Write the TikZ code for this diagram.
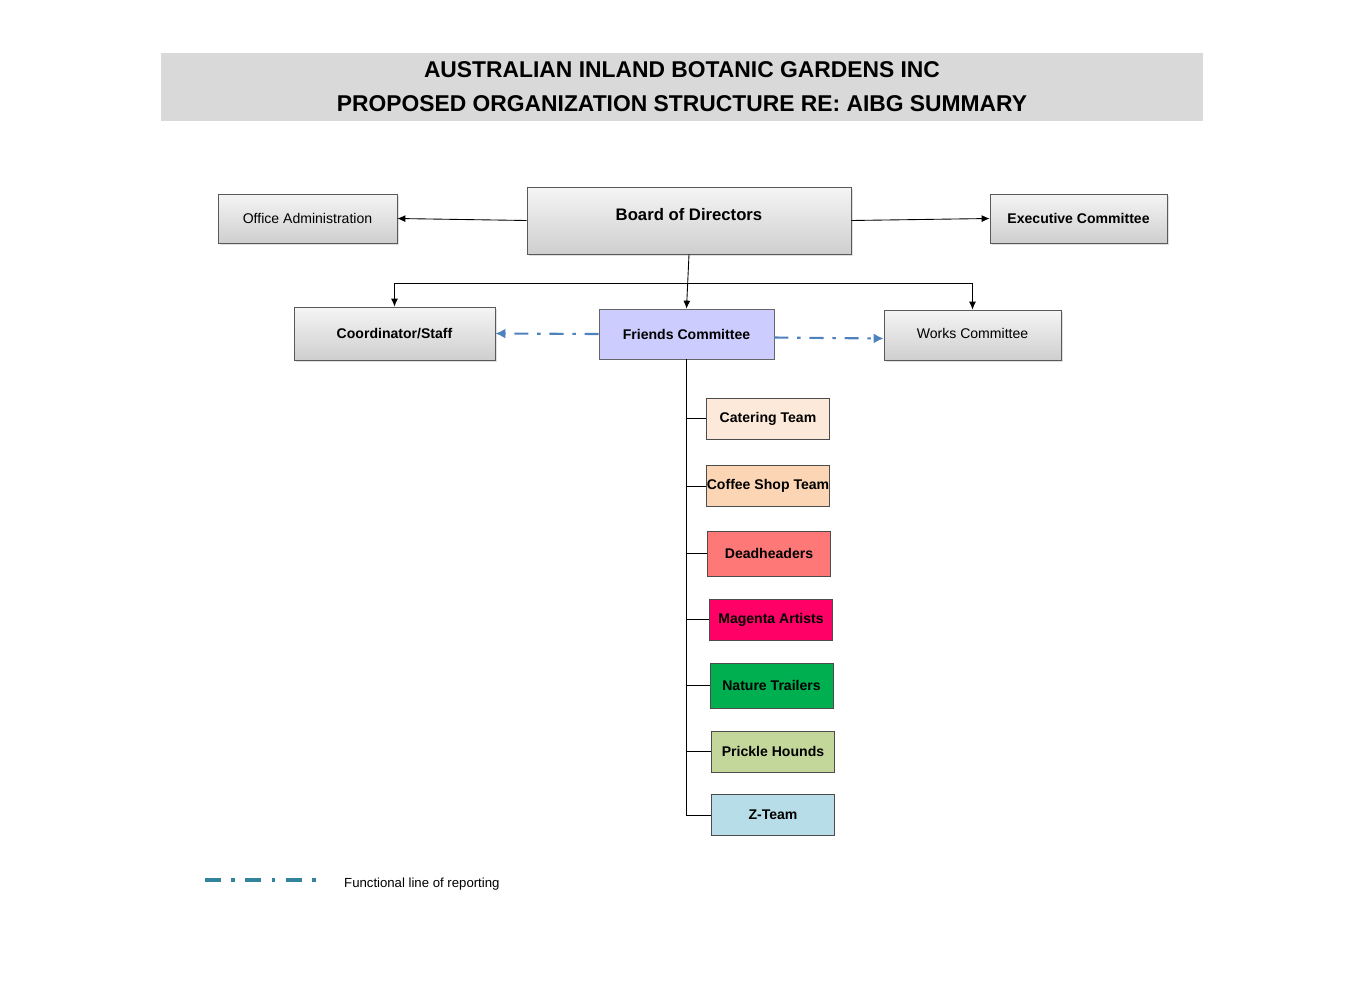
\documentclass[tikz,border=0pt]{standalone}
\usepackage{fontspec}
\setmainfont{Liberation Sans}
\usetikzlibrary{arrows.meta,positioning,shadows}
\definecolor{lineblue}{RGB}{79,129,189}
\definecolor{legteal}{RGB}{49,132,155}
\tikzset{
  grey box/.style={draw=gray!70!black, top color=gray!8, bottom color=gray!38, drop shadow={opacity=0.25,shadow xshift=0.4mm,shadow yshift=-0.4mm}, font=\fontsize{8}{9}\selectfont, inner sep=0pt},
  team/.style={draw=black!70, minimum width=2.46cm, minimum height=0.82cm, inner sep=0pt, font=\fontsize{8}{9}\selectfont\bfseries},
  link/.style={-{Latex[length=1.6mm,width=1.4mm]}, line width=0.5pt},
  functional/.style={-{Latex[length=2mm,width=2mm]}, draw=lineblue, line width=1.2pt, dash pattern=on 8pt off 5pt on 2pt off 5pt}
}
\begin{document}
\begin{tikzpicture}[x=0.02cm,y=-0.02cm]
		\useasboundingbox (0,0) rectangle (1358,980);
		\fill [gray!30] (161,53) rectangle (1203,121);
		\node [font=\fontsize{13}{15}\selectfont\bfseries](title1) at (682,70) {AUSTRALIAN INLAND BOTANIC GARDENS INC};
		\node [font=\fontsize{13}{15}\selectfont\bfseries](title2) at (682,104) {PROPOSED ORGANIZATION STRUCTURE RE: AIBG SUMMARY};
		% top row
		\node [grey box, minimum width=6.48cm, minimum height=1.34cm, font=\fontsize{9.5}{11}\selectfont\bfseries](board) at (689,220.5) {\raisebox{0.25cm}{Board of Directors}};
		\node [grey box, minimum width=3.58cm, minimum height=0.98cm](office) at (307.5,218.5) {Office Administration};
		\node [grey box, minimum width=3.54cm, minimum height=0.98cm, font=\fontsize{8}{9}\selectfont\bfseries](exec) at (1078.5,218.5) {Executive Committee};
		% second row
		\node [grey box, minimum width=4.02cm, minimum height=1.06cm, font=\fontsize{8}{9}\selectfont\bfseries](coord) at (394.5,333.5) {Coordinator/Staff};
		\node [draw=black!60, fill={rgb,255:red,204;green,204;blue,255}, minimum width=3.5cm, minimum height=1.0cm, inner sep=0pt, font=\fontsize{8}{9}\selectfont\bfseries](friends) at (686.5,334) {Friends Committee};
		\node [grey box, minimum width=3.54cm, minimum height=1.0cm](works) at (972.5,335) {\raisebox{0.07cm}{Works Committee}};
		% teams
		\node [team, fill={rgb,255:red,253;green,233;blue,217}](catering) at (768,418.5) {Catering Team};
		\node [team, fill={rgb,255:red,252;green,213;blue,180}](coffee) at (768,486) {Coffee Shop Team};
		\node [team, fill={rgb,255:red,255;green,120;blue,120}, minimum height=0.9cm](dead) at (769,553.5) {Deadheaders};
		\node [team, fill={rgb,255:red,255;green,0;blue,102}](magenta) at (771,619.5) {Magenta Artists};
		\node [team, fill={rgb,255:red,0;green,176;blue,80}, minimum height=0.9cm](nature) at (771.5,685.5) {Nature Trailers};
		\node [team, fill={rgb,255:red,196;green,215;blue,155}](prickle) at (773,751.5) {Prickle Hounds};
		\node [team, fill={rgb,255:red,183;green,222;blue,232}](zteam) at (773,815) {Z-Team};
		% connectors
		\draw [link] (board.west) -- (office.east);
		\draw [link] (board.east) -- (exec.west);
		\draw [link] (board.south) -- (friends.north);
		\coordinate (bus) at (685,283);
		\draw [link] (bus) -| (coord.north);
		\draw [link] (bus) -| (works.north);
		\draw [functional] (friends.west) -- (coord.east);
		\draw [functional] ([yshift=-2pt]friends.east) -- ([yshift=-2pt]works.west);
		\foreach \t in {catering,coffee,dead,magenta,nature,prickle,zteam}
			\draw [line width=0.5pt] (friends.south) |- (\t.west);
		% legend
		\coordinate (legA) at (205,880);
		\coordinate (legB) at (325,880);
		\draw [draw=legteal, line width=2pt, dash pattern=on 9pt off 6pt on 2pt off 6pt] (legA) -- (legB);
		\node [anchor=west, font=\fontsize{7.5}{9}\selectfont](legend) at (338,884) {Functional line of reporting};
\end{tikzpicture}
\end{document}
